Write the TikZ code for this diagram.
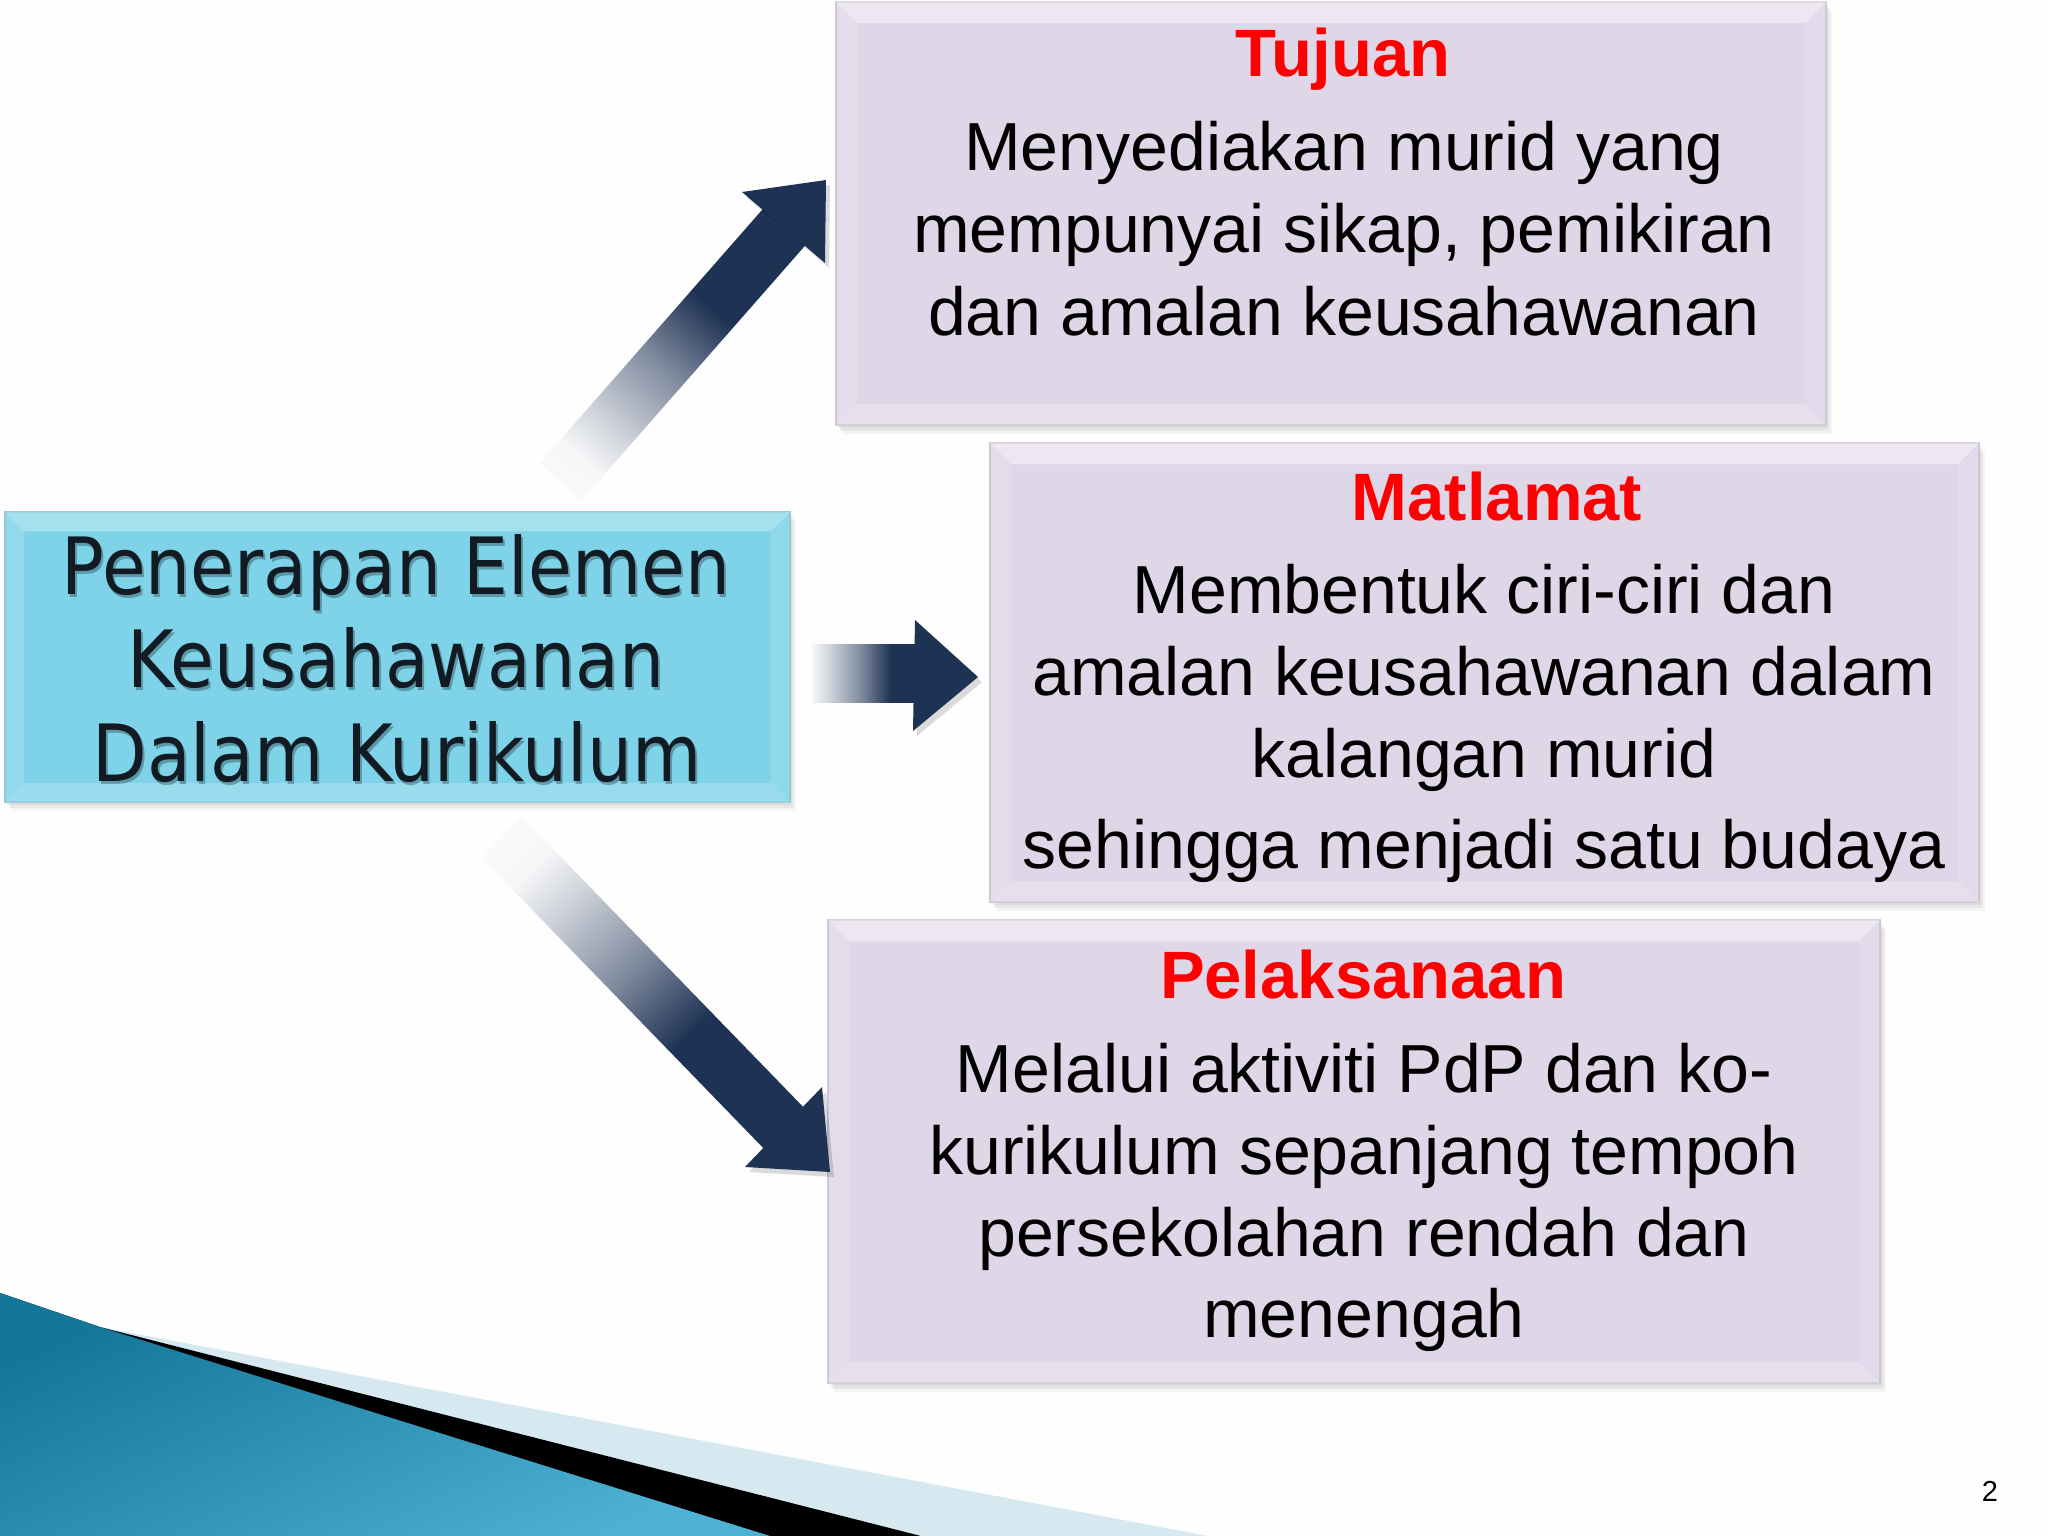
\documentclass[tikz,border=0pt]{standalone}
\usepackage{fontspec}
\setmainfont{Liberation Sans}
\newfontfamily\tahfont[FakeStretch=0.9]{DejaVu Sans}
\usetikzlibrary{calc,shadows}
\definecolor{navy}{RGB}{30,50,84}
\definecolor{lav}{RGB}{223,214,232}
\definecolor{cyanbox}{RGB}{126,211,232}
\definecolor{tealA}{RGB}{20,118,152}
\definecolor{tealB}{RGB}{78,178,212}
\definecolor{paleblue}{RGB}{214,233,241}
\definecolor{inkdark}{RGB}{18,26,36}
\pgfdeclarehorizontalshading{arrfade}{100bp}{color(0bp)=(white); color(25bp)=(navy!4!white); color(33bp)=(navy!22!white); color(46bp)=(navy!55!white); color(60bp)=(navy); color(100bp)=(navy)}
\newcommand{\bevelize}[3]{%
  \fill[white,opacity=#3] (#1.north west) -- (#1.north east) -- ($(#1.north east)+(-#2,#2)$) -- ($(#1.north west)+(#2,#2)$) -- cycle;
  \fill[white,opacity=0.16] (#1.north west) -- ($(#1.north west)+(#2,#2)$) -- ($(#1.south west)+(#2,-#2)$) -- (#1.south west) -- cycle;
  \fill[white,opacity=0.14] (#1.north east) -- ($(#1.north east)+(-#2,#2)$) -- ($(#1.south east)+(-#2,-#2)$) -- (#1.south east) -- cycle;
  \fill[white,opacity=0.22] (#1.south west) -- ($(#1.south west)+(#2,-#2)$) -- ($(#1.south east)+(-#2,-#2)$) -- (#1.south east) -- cycle;
}
\begin{document}
\begin{tikzpicture}[x=1pt,y=-1pt,
  softshadow/.style={
    general shadow={fill=black,opacity=0.05,shadow xshift=2pt,shadow yshift=-3pt},
    general shadow={fill=black,opacity=0.05,shadow xshift=4pt,shadow yshift=-6pt},
    general shadow={fill=black,opacity=0.04,shadow xshift=6pt,shadow yshift=-9pt}},
  card/.style={rectangle, inner sep=0pt, fill=lav, draw=lav!75!gray, line width=1.5pt, softshadow},
  leftcard/.style={rectangle, inner sep=0pt, fill=cyanbox, draw=cyanbox!80!gray, line width=1.5pt, softshadow},
  body/.style={font=\fontsize{68}{82}\selectfont, anchor=base, inner sep=0pt, text=black},
  heading/.style={font=\fontsize{67}{80}\selectfont\bfseries, anchor=base, inner sep=0pt, text=red},
  lefttext/.style={font=\tahfont\fontsize{79}{94}\selectfont, anchor=base, inner sep=0pt, text=inkdark},
  leftglow/.style={lefttext, text=black, opacity=0.28},
  headshadow/.style={general shadow={fill=black,opacity=0.14,shadow xshift=4pt,shadow yshift=-5pt}},
]
\useasboundingbox (0,0) rectangle (2048,1536);
\fill[white!99!gray] (0,0) rectangle (2048,1536);

% bottom-left swoosh
\fill[paleblue] (0,1293) -- (100,1327) -- (1208,1536) -- (0,1536) -- cycle;
\fill[black] (0,1293) -- (100,1327) -- (921,1536) -- (0,1536) -- cycle;
\shade[left color=tealA, right color=tealB, shading angle=25]
  (0,1293) -- (100,1327) -- (770,1536) -- (0,1536) -- cycle;

% boxes
\node[leftcard, minimum width=785pt, minimum height=290pt] (elem) at (397.5,657) {};
\bevelize{elem}{20}{0.3}
\node[card, minimum width=990pt, minimum height=423pt] (tuj) at (1331,213.5) {};
\bevelize{tuj}{22}{0.42}
\node[card, minimum width=989pt, minimum height=459pt] (mat) at (1484.5,672.5) {};
\bevelize{mat}{22}{0.42}
\node[card, minimum width=1052pt, minimum height=463pt] (pel) at (1354,1151.5) {};
\bevelize{pel}{22}{0.42}

% left box text
\node[leftglow] (e1s) at (398,597) {Penerapan Elemen};
\node[leftglow] (e2s) at (398,690) {Keusahawanan};
\node[leftglow] (e3s) at (399,784) {Dalam Kurikulum};
\node[lefttext] (e1) at (396,594) {Penerapan Elemen};
\node[lefttext] (e2) at (396,687) {Keusahawanan};
\node[lefttext] (e3) at (397,781) {Dalam Kurikulum};

% Tujuan
\node[heading] (tujh) at (1343,77) {Tujuan};
\node[body] (tuj1) at (1344,170) {Menyediakan murid yang};
\node[body] (tuj2) at (1344,252) {mempunyai sikap, pemikiran};
\node[body] (tuj3) at (1344,335) {dan amalan keusahawanan};

% Matlamat
\node[heading] (math) at (1497,520) {Matlamat};
\node[body] (mat1) at (1484,613) {Membentuk ciri-ciri dan};
\node[body] (mat2) at (1484,695) {amalan keusahawanan dalam};
\node[body] (mat3) at (1484,777) {kalangan murid};
\node[body] (mat4) at (1484,868) {sehingga menjadi satu budaya};

% Pelaksanaan
\node[heading] (pelh) at (1363,998) {Pelaksanaan};
\node[body] (pel1) at (1364,1092) {Melalui aktiviti PdP dan ko-};
\node[body] (pel2) at (1364,1174) {kurikulum sepanjang tempoh};
\node[body] (pel3) at (1364,1256) {persekolahan rendah dan};
\node[body] (pel4) at (1364,1337) {menengah};

% arrows
% up arrow
\shade[shading=arrfade, shading angle=48] (540,463) -- (769,202) -- (810,240) -- (581,501) -- cycle;
\fill[navy, headshadow] (742,192) -- (826,180) -- (825,263) -- cycle;
% middle arrow
\shade[shading=arrfade] (812,644) rectangle (925,702);
\fill[navy, headshadow] (915,620) -- (978,677) -- (913,731) -- cycle;
% down arrow
\shade[shading=arrfade, shading angle=-46] (522,817) -- (810,1114) -- (770,1155) -- (482,858) -- cycle;
\fill[navy, headshadow] (822,1087) -- (830,1172) -- (745,1167) -- cycle;

% page number
\node[font=\fontsize{29}{34}\selectfont, anchor=base, inner sep=0pt] (pg) at (1990,1501) {2};
\end{tikzpicture}
\end{document}
